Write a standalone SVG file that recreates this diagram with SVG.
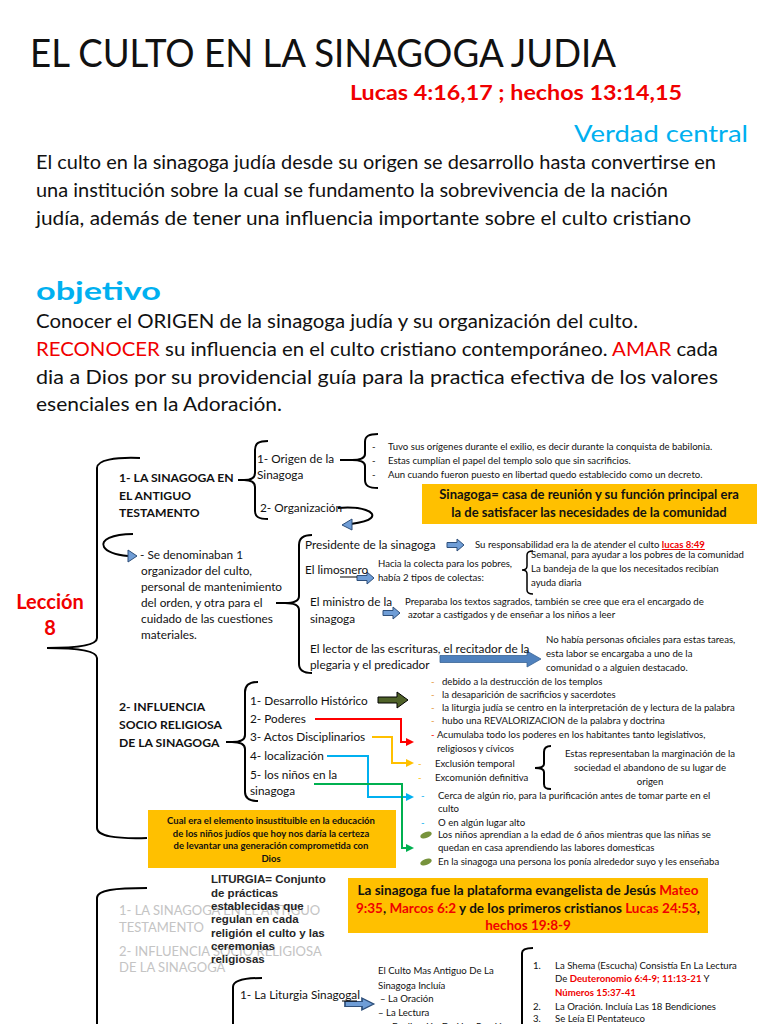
<svg xmlns="http://www.w3.org/2000/svg" width="768" height="1024" viewBox="0 0 768 1024">
<defs>
<style>
text{font-family:Lato,"Liberation Sans","Noto Sans",sans-serif;fill:#111}
.s{font-size:9.6px}
.m{font-size:11.8px}
.h{font-size:12.2px;font-weight:bold}
.g{font-size:13px;fill:#C4C4C4}
.b{font-weight:bold}
.r{fill:#F00000}
.c{text-anchor:middle}
.lit{font-family:"Liberation Sans",Arial,sans-serif;font-size:11.5px;font-weight:bold;fill:#262626}
.br{fill:none;stroke:#000;stroke-width:2}
.box{fill:#FFC000}
.ba{fill:#6F9DD6;stroke:#2E4F7A;stroke-width:1}
.ln{fill:none;stroke-width:2}
</style>
<marker id="mr" markerWidth="8" markerHeight="8" refX="2" refY="4" orient="auto" markerUnits="userSpaceOnUse"><path d="M0,0 L8,4 L0,8 Z" fill="#FF0000"/></marker>
<marker id="my" markerWidth="8" markerHeight="8" refX="2" refY="4" orient="auto" markerUnits="userSpaceOnUse"><path d="M0,0 L8,4 L0,8 Z" fill="#FFC000"/></marker>
<marker id="mb" markerWidth="8" markerHeight="8" refX="2" refY="4" orient="auto" markerUnits="userSpaceOnUse"><path d="M0,0 L8,4 L0,8 Z" fill="#00B0F0"/></marker>
<marker id="mg" markerWidth="8" markerHeight="8" refX="2" refY="4" orient="auto" markerUnits="userSpaceOnUse"><path d="M0,0 L8,4 L0,8 Z" fill="#00B050"/></marker>
<path id="sa" d="M0,-2.5 H10 V-6 L17,0 L10,6 V2.5 H0 Z"/>
</defs>
<rect width="768" height="1024" fill="#fff"/>

<g id="header">
<text x="30" y="67" font-size="39" textLength="586" lengthAdjust="spacingAndGlyphs">EL CULTO EN LA SINAGOGA JUDIA</text>
<text x="350" y="100" font-size="21" class="b r" textLength="332" lengthAdjust="spacingAndGlyphs">Lucas 4:16,17 ; hechos 13:14,15</text>
<text x="574" y="142" font-size="24" style="fill:#00B0F0" textLength="174" lengthAdjust="spacingAndGlyphs">Verdad central</text>
<text x="36" y="169" font-size="19.5" textLength="680" lengthAdjust="spacingAndGlyphs">El culto en la sinagoga judía desde su origen se desarrollo hasta convertirse en</text>
<text x="36" y="197" font-size="19.5" textLength="632" lengthAdjust="spacingAndGlyphs">una institución sobre la cual se fundamento la sobrevivencia de la nación</text>
<text x="36" y="225" font-size="19.5" textLength="655" lengthAdjust="spacingAndGlyphs">judía, además de tener una influencia importante sobre el culto cristiano</text>
<text x="36" y="300" font-size="25" class="b" style="fill:#00B0F0" textLength="125" lengthAdjust="spacingAndGlyphs">objetivo</text>
<text x="36" y="328" font-size="19.5" textLength="602" lengthAdjust="spacingAndGlyphs">Conocer el ORIGEN de la sinagoga judía y su organización del culto.</text>
<text x="36" y="356" font-size="19.5" textLength="682" lengthAdjust="spacingAndGlyphs"><tspan class="r">RECONOCER</tspan> su influencia en el culto cristiano contemporáneo. <tspan class="r">AMAR</tspan> cada</text>
<text x="36" y="384" font-size="19.5" textLength="682" lengthAdjust="spacingAndGlyphs">dia a Dios por su providencial guía para la practica efectiva de los valores</text>
<text x="36" y="411" font-size="19.5" textLength="246" lengthAdjust="spacingAndGlyphs">esenciales en la Adoración.</text>
</g>

<g id="connectors">
<path class="br" d="M140,458 C115,457 97,460 97,468 V638 C97,645 80,648 47,648 C80,648 97,651 97,658 V828 C97,836 115,839 147,838"/>
<path class="br" d="M147,888 C115,888 97,890 97,898 V1030"/>
<path class="br" d="M238,480 H244 M268,441 C259,441 255,443 255,450 V473 C255,478 250,480 244,480 C250,480 255,482 255,487 V511 C255,517 259,519 268,519"/>
<path class="br" d="M340,460 H352 M378,434 C369,434 365,436 365,442 V454 C365,458 360,460 352,460 C360,460 365,462 365,466 V480 C365,486 369,488 378,488"/>
<path class="br" d="M276,603 H285 M312,535 C303,535 299,538 299,545 V596 C299,601 293,603 285,603 C293,603 299,605 299,610 V664 C299,670 303,673 312,673"/>
<path class="br" d="M226,742 H232 M258,682 C249,682 245,685 245,692 V735 C245,740 239,742 232,742 C239,742 245,744 245,749 V792 C245,798 249,801 258,801"/>
<path class="br" style="stroke-width:1.5" d="M533,551 C529,551 527,552 527,555 V566 C527,569 525,570 522,570 C525,570 527,571 527,574 V590 C527,593 529,594 533,594"/>
<path class="br" d="M551,746 C546,746 544,748 544,752 V764 C544,767 540,768 535,768 C540,768 544,769 544,772 V784 C544,788 546,789 551,789"/>
<path class="br" d="M262,978 C245,978 233,980 233,987 V1030"/>
<path class="br" d="M533,948 C526,948 522,949 522,953 V1030"/>
<path class="br" d="M338,508 C362,506 377,512 371,518 C367,522 358,523 350,524"/>
<polygon class="ba" points="342,525 352,519 352,530"/>
<path class="br" d="M133,534 C112,534 100,540 104,547 C107,552 118,555 128,556"/>
<polygon class="ba" points="137,556 128,550 128,562"/>
<use href="#sa" class="ba" x="447" y="545"/>
<use href="#sa" class="ba" x="357" y="578"/>
<use href="#sa" class="ba" x="383" y="613"/>
<path class="ba" transform="translate(345,1004) scale(1.7,1)" d="M0,-2.5 H10 V-6 L17,0 L10,6 V2.5 H0 Z"/>
<path d="M440,655.5 H527 V651 L541,659 L527,667 V662.5 H440 Z" fill="#4F81BD" stroke="#3A6496" stroke-width="0.8"/>
<path d="M378,697 H397 V692 L408,700 L397,708 V703 H378 Z" fill="#4F6228" stroke="#000" stroke-width="1"/>
<path class="ln" stroke="#FF0000" marker-end="url(#mr)" d="M315,719 H401 V742 H408"/>
<path class="ln" stroke="#FFC000" marker-end="url(#my)" d="M372,737 H392 V763 H408"/>
<path class="ln" stroke="#00B0F0" marker-end="url(#mb)" d="M327,756 H368 V797 H408"/>
<path class="ln" stroke="#00B050" marker-end="url(#mg)" d="M314,784 H402 V848 H408"/>
<line x1="340" y1="577" x2="357" y2="577" stroke="#000" stroke-width="1"/>
<line x1="342" y1="1001" x2="357" y2="1001" stroke="#000" stroke-width="1"/>
</g>

<g id="leccion">
<text x="50" y="609" font-size="20" class="b r c">Lección</text>
<text x="50" y="635" font-size="20" class="b r c">8</text>
</g>

<g id="n-antiguo">
<text x="119" y="482" class="h">1- LA SINAGOGA EN</text>
<text x="119" y="500" class="h">EL ANTIGUO</text>
<text x="119" y="517" class="h">TESTAMENTO</text>
</g>

<g id="n-origen">
<text x="257" y="463" class="m">1- Origen de la</text>
<text x="257" y="479" class="m">Sinagoga</text>
</g>

<g id="n-origen-list">
<text x="372" y="450" class="s">-</text><text x="388" y="450" class="s">Tuvo sus orígenes durante el exilio, es decir durante la conquista de babilonia.</text>
<text x="372" y="464" class="s">-</text><text x="388" y="464" class="s">Estas cumplían el papel del templo solo que sin sacrificios.</text>
<text x="372" y="478" class="s">-</text><text x="388" y="478" class="s">Aun cuando fueron puesto en libertad quedo establecido como un decreto.</text>
</g>

<g id="n-organizacion">
<text x="260" y="512" class="m">2- Organización</text>
</g>

<g id="n-def-sinagoga">
<rect class="box" x="422" y="484" width="335" height="40"/>
<text x="589" y="499" font-size="13" class="b c">Sinagoga= casa de reunión y su función principal era</text>
<text x="589" y="517" font-size="13" class="b c">la de satisfacer las necesidades de la comunidad</text>
</g>

<g id="n-denominaban">
<text x="140" y="559" class="m">- Se denominaban 1</text>
<text x="141" y="575" class="m">organizador del culto,</text>
<text x="141" y="591" class="m">personal de mantenimiento</text>
<text x="141" y="607" class="m">del orden, y otra para el</text>
<text x="141" y="623" class="m">cuidado de las cuestiones</text>
<text x="141" y="639" class="m">materiales.</text>
</g>

<g id="n-presidente">
<text x="305" y="549" class="m">Presidente de la sinagoga</text>
<text x="475" y="548" class="s">Su responsabilidad era la de atender el culto <tspan class="b r" text-decoration="underline">lucas 8:49</tspan></text>
</g>

<g id="n-limosnero">
<text x="305" y="574" class="m">El limosnero</text>
<text x="378" y="567" class="s">Hacia la colecta para los pobres,</text>
<text x="378" y="581" class="s">había 2 tipos de colectas:</text>
<text x="531" y="558" class="s">Semanal, para ayudar a los pobres de la comunidad</text>
<text x="531" y="572" class="s">La bandeja de la que los necesitados recibían</text>
<text x="531" y="586" class="s">ayuda diaria</text>
</g>

<g id="n-ministro">
<text x="310" y="606" class="m">El ministro de la</text>
<text x="310" y="623" class="m">sinagoga</text>
<text x="405" y="605" class="s">Preparaba los textos sagrados, también se cree que era el encargado de</text>
<text x="408" y="618" class="s">azotar a castigados y de enseñar a los niños a leer</text>
</g>

<g id="n-lector">
<text x="310" y="653" class="m">El lector de las escrituras, el recitador de la</text>
<text x="310" y="669" class="m">plegaria y el predicador</text>
<text x="546" y="643" class="s">No había personas oficiales para estas tareas,</text>
<text x="546" y="657" class="s">esta labor se encargaba a uno de la</text>
<text x="546" y="671" class="s">comunidad o a alguien destacado.</text>
</g>

<g id="n-influencia">
<text x="119" y="711" class="h">2- INFLUENCIA</text>
<text x="119" y="729" class="h">SOCIO RELIGIOSA</text>
<text x="119" y="747" class="h">DE LA SINAGOGA</text>
</g>

<g id="n-influencia-items">
<text x="250" y="705" class="m">1- Desarrollo Histórico</text>
<text x="250" y="723" class="m">2- Poderes</text>
<text x="250" y="741" class="m">3- Actos Disciplinarios</text>
<text x="250" y="760" class="m">4- localización</text>
<text x="250" y="779" class="m">5- los niños en la</text>
<text x="250" y="795" class="m">sinagoga</text>
</g>

<g id="n-influencia-detalle">
<text x="431" y="685" class="s" style="fill:#E59A3A">-</text><text x="442" y="685" class="s">debido a la destrucción de los templos</text>
<text x="431" y="698" class="s" style="fill:#E59A3A">-</text><text x="442" y="698" class="s">la desaparición de sacrificios y sacerdotes</text>
<text x="431" y="711" class="s" style="fill:#E59A3A">-</text><text x="442" y="711" class="s">la liturgia judía se centro en la interpretación de y lectura de la palabra</text>
<text x="431" y="724" class="s" style="fill:#E59A3A">-</text><text x="442" y="724" class="s">hubo una REVALORIZACION de la palabra y doctrina</text>
<text x="431" y="738" class="s" style="fill:#FF0000">-</text><text x="437" y="738" class="s">Acumulaba todo los poderes  en los habitantes tanto legislativos,</text>
<text x="437" y="752" class="s">religiosos y cívicos</text>
<text x="418" y="767" class="s" style="fill:#FFC000">-</text><text x="435" y="767" class="s">Exclusión temporal</text>
<text x="418" y="781" class="s" style="fill:#FFC000">-</text><text x="435" y="781" class="s">Excomunión definitiva</text>
<text x="650" y="757" class="s c">Estas representaban la marginación de la</text>
<text x="650" y="771" class="s c">sociedad el abandono de su lugar de</text>
<text x="650" y="785" class="s c">origen</text>
<text x="421" y="799" class="s" style="fill:#00B0F0">-</text><text x="438" y="799" class="s">Cerca de algún rio, para la purificación antes de tomar parte en el</text>
<text x="438" y="812" class="s">culto</text>
<text x="421" y="826" class="s" style="fill:#00B0F0">-</text><text x="438" y="826" class="s">O en algún lugar alto</text>
<ellipse cx="426" cy="835" rx="6" ry="3" transform="rotate(-20 426 835)" fill="#77933C"/>
<text x="438" y="838" class="s">Los niños aprendian a la edad de 6 años mientras que las niñas se</text>
<text x="438" y="851" class="s">quedan en casa aprendiendo las labores domesticas</text>
<ellipse cx="426" cy="862" rx="6" ry="3" transform="rotate(-20 426 862)" fill="#77933C"/>
<text x="438" y="865" class="s">En la sinagoga una persona los ponía alrededor suyo y les enseñaba</text>
</g>

<g id="n-pregunta">
<rect class="box" x="148" y="810" width="248" height="58"/>
<text x="271" y="824" font-size="9.5" class="b c">Cual era el elemento insustituible en la educación</text>
<text x="271" y="836.5" font-size="9.5" class="b c">de los niños judíos que hoy nos daría la certeza</text>
<text x="271" y="849" font-size="9.5" class="b c">de levantar una generación comprometida con</text>
<text x="271" y="862" font-size="9.5" class="b c">Dios</text>
</g>

<g id="n-gris">
<text x="119" y="915" class="g">1- LA SINAGOGA EN EL ANTIGUO</text>
<text x="119" y="932" class="g">TESTAMENTO</text>
<text x="119" y="956" class="g">2- INFLUENCIA SOCIO RELIGIOSA</text>
<text x="119" y="972" class="g">DE LA SINAGOGA</text>
</g>

<g id="n-liturgia-def">
<text x="211" y="883" class="lit">LITURGIA= Conjunto</text>
<text x="211" y="897" class="lit">de prácticas</text>
<text x="211" y="910" class="lit">establecidas que</text>
<text x="211" y="923" class="lit">regulan en cada</text>
<text x="211" y="937" class="lit">religión el culto y las</text>
<text x="211" y="950" class="lit">ceremonias</text>
<text x="211" y="963" class="lit">religiosas</text>
</g>

<g id="n-plataforma">
<rect class="box" x="348" y="878" width="360" height="55"/>
<text x="528" y="895" font-size="13.5" class="b c">La sinagoga fue la plataforma evangelista de Jesús <tspan class="r">Mateo</tspan></text>
<text x="528" y="913" font-size="13.5" class="b c"><tspan class="r">9:35</tspan>, <tspan class="r">Marcos 6:2</tspan> y de los primeros cristianos <tspan class="r">Lucas 24:53</tspan>,</text>
<text x="528" y="930" font-size="13.5" class="b c r">hechos 19:8-9</text>
</g>

<g id="n-liturgia-sinagogal">
<text x="240" y="999" class="m">1- La Liturgia Sinagogal</text>
</g>

<g id="n-culto-antiguo">
<text x="378" y="974" class="s">El Culto Mas Antiguo De La</text>
<text x="378" y="989" class="s">Sinagoga Incluía</text>
<text x="380" y="1002" class="s"> – La Oración</text>
<text x="378" y="1016" class="s">– La Lectura</text>
<text x="384" y="1030" class="s">– Explicación De Una Porción</text>
</g>

<g id="n-lista">
<text x="533" y="969" class="s">1.</text><text x="555" y="969" class="s">La Shema (Escucha) Consistía En La Lectura</text>
<text x="555" y="982" class="s">De <tspan class="b r">Deuteronomio 6:4-9; 11:13-21</tspan> Y</text>
<text x="555" y="996" class="s b r">Números 15:37-41</text>
<text x="533" y="1010" class="s">2.</text><text x="555" y="1010" class="s">La Oración.  Incluía Las 18 Bendiciones</text>
<text x="533" y="1022" class="s">3.</text><text x="555" y="1022" class="s">Se Leía El Pentateuco</text>
</g>
</svg>
